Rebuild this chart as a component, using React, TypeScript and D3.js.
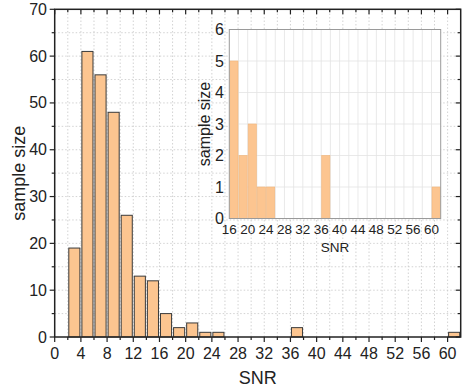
import React from 'react';
import * as d3 from 'd3';

// histogram bins (start of each 2-wide SNR bin) and counts
const binStarts = [2, 4, 6, 8, 10, 12, 14, 16, 18, 20, 22, 24, 36, 60];
const counts = [19, 61, 56, 48, 26, 13, 12, 5, 2, 3, 1, 1, 2, 1];
const binWidth = 2;

const mainXTicks = d3.range(0, 61, 4);
const mainYTicks = d3.range(0, 71, 10);
const insetXTicks = d3.range(16, 61, 4);
const insetYTicks = d3.range(0, 7, 1);

const FONT = '"Liberation Sans", Arial, sans-serif';
const FILL = '#fcc590';

const App: React.FC = () => {
  const W = 474;
  const H = 388;

  const x = d3.scaleLinear().domain([0, 62]).range([54.7, 460.7]);
  const y = d3.scaleLinear().domain([0, 70]).range([337, 9.3]);

  const ix = d3.scaleLinear().domain([16, 62]).range([229.3, 440.7]);
  const iy = d3.scaleLinear().domain([0, 6]).range([218.5, 29.5]);

  const bins = binStarts.map((s, i) => ({ s, v: counts[i] }));
  const insetBins = bins.filter(b => b.s >= 16);

  const [x0, x1] = x.range();
  const [y0, y1] = y.range();
  const [ix0, ix1] = ix.range();
  const [iy0, iy1] = iy.range();

  return (
    <svg width={W} height={H} style={{ position: 'absolute', left: 0, top: 0, background: '#fff' }}>
      {/* main grid */}
      <g stroke="#c8c8c8" strokeWidth={0.8} strokeDasharray="1.5,2">
        {d3.range(2, 61, 2).map(t => (
          <line key={'gx' + t} x1={x(t)} x2={x(t)} y1={y0} y2={y1} />
        ))}
        {d3.range(5, 70, 5).map(t => (
          <line key={'gy' + t} x1={x0} x2={x1} y1={y(t)} y2={y(t)} />
        ))}
      </g>

      {/* main bars */}
      <g fill={FILL} stroke="#3a3a3a" strokeWidth={1}>
        {bins.map(b => (
          <rect
            key={b.s}
            x={x(b.s) + 1}
            y={y(b.v)}
            width={x(b.s + binWidth) - x(b.s) - 2}
            height={y(0) - y(b.v)}
          />
        ))}
      </g>

      {/* main frame */}
      <rect x={x0} y={y1} width={x1 - x0} height={y0 - y1} fill="none" stroke="#222" strokeWidth={1.5} />

      {/* ticks: outward on bottom/left, inward on top/right */}
      <g stroke="#222" strokeWidth={1.2}>
        {d3.range(0, 61, 2).map(t => {
          const major = t % 4 === 0;
          return (
            <g key={'tx' + t}>
              <line x1={x(t)} x2={x(t)} y1={y0} y2={y0 + (major ? 5 : 3)} />
              <line x1={x(t)} x2={x(t)} y1={y1} y2={y1 + (major ? 5 : 3)} />
            </g>
          );
        })}
        {d3.range(0, 71, 5).map(t => {
          const major = t % 10 === 0;
          return (
            <g key={'ty' + t}>
              <line x1={x0} x2={x0 - (major ? 5 : 3)} y1={y(t)} y2={y(t)} />
              <line x1={x1} x2={x1 - (major ? 5 : 3)} y1={y(t)} y2={y(t)} />
            </g>
          );
        })}
      </g>

      <g fontFamily={FONT} fontSize={16} fill="#222">
        {mainXTicks.map(t => (
          <text key={'lx' + t} x={x(t)} y={358.5} textAnchor="middle">{t}</text>
        ))}
        {mainYTicks.map(t => (
          <text key={'ly' + t} x={47} y={y(t) + 5.5} textAnchor="end">{t}</text>
        ))}
        <text x={(x0 + x1) / 2} y={384} textAnchor="middle" fontSize={18}>SNR</text>
        <text
          transform={`translate(25,${(y0 + y1) / 2}) rotate(-90)`}
          textAnchor="middle"
          fontSize={18}
        >sample size</text>
      </g>

      {/* inset */}
      <rect x={ix0} y={iy1} width={ix1 - ix0} height={iy0 - iy1} fill="#fff" />
      <g stroke="#e3e3e3" strokeWidth={0.8}>
        {d3.range(18, 62, 2).map(t => (
          <line key={'igx' + t} x1={ix(t)} x2={ix(t)} y1={iy0} y2={iy1} />
        ))}
        {d3.range(1, 6, 1).map(t => (
          <line key={'igy' + t} x1={ix0} x2={ix1} y1={iy(t)} y2={iy(t)} />
        ))}
      </g>
      <g fill={FILL} stroke="#f0b57a" strokeWidth={0.6}>
        {insetBins.map(b => (
          <rect
            key={'ib' + b.s}
            x={ix(b.s) + 0.5}
            y={iy(b.v)}
            width={ix(b.s + binWidth) - ix(b.s) - 1}
            height={iy(0) - iy(b.v)}
          />
        ))}
      </g>
      <rect x={ix0} y={iy1} width={ix1 - ix0} height={iy0 - iy1} fill="none" stroke="#9a9a9a" strokeWidth={1} />
      <g fontFamily={FONT} fontSize={13.5} fill="#222">
        {insetXTicks.map(t => (
          <text key={'ilx' + t} x={ix(t)} y={234} textAnchor="middle">{t}</text>
        ))}
        {insetYTicks.map(t => (
          <text key={'ily' + t} x={224} y={iy(t) + 5.5} textAnchor="end" fontSize={16}>{t}</text>
        ))}
        <text x={(ix0 + ix1) / 2} y={252} textAnchor="middle">SNR</text>
        <text
          transform={`translate(210,${(iy0 + iy1) / 2}) rotate(-90)`}
          textAnchor="middle"
          fontSize={16}
        >sample size</text>
      </g>
    </svg>
  );
};

export default App;
